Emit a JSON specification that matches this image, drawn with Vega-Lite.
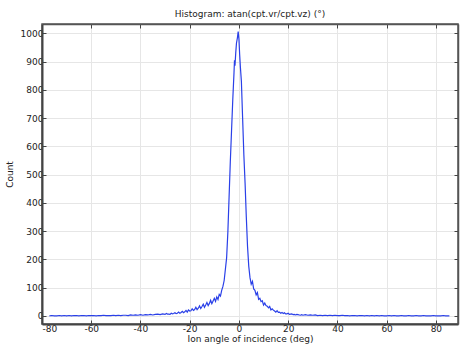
{
  "$schema": "https://vega.github.io/schema/vega-lite/v6.json",
  "autosize": {"type": "none"},
  "width": 416,
  "height": 300,
  "padding": {"left": 42, "top": 24, "right": 16, "bottom": 28},
  "background": "white",
  "title": {"text": "Histogram: atan(cpt.vr/cpt.vz) (°)", "fontSize": 9, "font": "DejaVu Sans", "fontWeight": "normal", "color": "#222", "offset": 5},
  "config": {"view": {"stroke": "#555", "strokeWidth": 1.5}, "font": "DejaVu Sans"},
  "data": {"values": [
    {"a": -77, "c": 0}, {"a": -76, "c": 1}, {"a": -75, "c": 0}, {"a": -74, "c": 0}, {"a": -73, "c": 1}, {"a": -72, "c": 0}, {"a": -71, "c": 1}, {"a": -70, "c": 0}, {"a": -69, "c": 1}, {"a": -68, "c": 0}, {"a": -67, "c": 1}, {"a": -66, "c": 1}, {"a": -65, "c": 0}, {"a": -64, "c": 1}, {"a": -63, "c": 1}, {"a": -62, "c": 0}, {"a": -61, "c": 1}, {"a": -60, "c": 1}, {"a": -59, "c": 1}, {"a": -58, "c": 0}, {"a": -57, "c": 1}, {"a": -56, "c": 1}, {"a": -55, "c": 2}, {"a": -54, "c": 1}, {"a": -53, "c": 1}, {"a": -52, "c": 1}, {"a": -51, "c": 2}, {"a": -50, "c": 1}, {"a": -49, "c": 2}, {"a": -48, "c": 1}, {"a": -47, "c": 2}, {"a": -46, "c": 2}, {"a": -45, "c": 1}, {"a": -44, "c": 3}, {"a": -43, "c": 2}, {"a": -42, "c": 3}, {"a": -41, "c": 2}, {"a": -40, "c": 4}, {"a": -39, "c": 2}, {"a": -38, "c": 4}, {"a": -37, "c": 3}, {"a": -36, "c": 5}, {"a": -35, "c": 3}, {"a": -34, "c": 5}, {"a": -33, "c": 6}, {"a": -32, "c": 4}, {"a": -31, "c": 7},
    {"a": -30, "c": 5}, {"a": -29.5, "c": 8}, {"a": -29, "c": 6}, {"a": -28.5, "c": 6}, {"a": -28, "c": 5}, {"a": -27.5, "c": 9}, {"a": -27, "c": 7}, {"a": -26.5, "c": 8}, {"a": -26, "c": 11}, {"a": -25.5, "c": 8}, {"a": -25, "c": 9}, {"a": -24.5, "c": 13}, {"a": -24, "c": 9}, {"a": -23.5, "c": 12}, {"a": -23, "c": 16}, {"a": -22.5, "c": 11}, {"a": -22, "c": 14}, {"a": -21.5, "c": 19}, {"a": -21, "c": 13}, {"a": -20.5, "c": 21}, {"a": -20, "c": 17}, {"a": -19.5, "c": 18}, {"a": -19, "c": 25}, {"a": -18.5, "c": 19}, {"a": -18, "c": 22}, {"a": -17.5, "c": 30}, {"a": -17, "c": 22}, {"a": -16.5, "c": 27}, {"a": -16, "c": 35}, {"a": -15.5, "c": 26}, {"a": -15, "c": 33}, {"a": -14.5, "c": 41}, {"a": -14, "c": 30}, {"a": -13.5, "c": 38}, {"a": -13, "c": 47}, {"a": -12.5, "c": 36}, {"a": -12, "c": 44}, {"a": -11.5, "c": 55}, {"a": -11, "c": 43}, {"a": -10.5, "c": 52}, {"a": -10, "c": 62}, {"a": -9.5, "c": 51}, {"a": -9, "c": 67}, {"a": -8.5, "c": 58}, {"a": -8, "c": 76}, {"a": -7.5, "c": 70}, {"a": -7, "c": 90}, {"a": -6.5, "c": 104}, {"a": -6, "c": 125}, {"a": -5.5, "c": 165}, {"a": -5, "c": 205}, {"a": -4.5, "c": 295}, {"a": -4, "c": 420}, {"a": -3.5, "c": 545}, {"a": -3, "c": 655}, {"a": -2.5, "c": 765}, {"a": -2, "c": 860}, {"a": -1.8, "c": 905}, {"a": -1.6, "c": 885}, {"a": -1.3, "c": 930}, {"a": -1, "c": 965}, {"a": -0.6, "c": 985}, {"a": -0.3, "c": 1006}, {"a": 0, "c": 980}, {"a": 0.3, "c": 925}, {"a": 0.6, "c": 880}, {"a": 1, "c": 830}, {"a": 1.5, "c": 700}, {"a": 2, "c": 570}, {"a": 2.5, "c": 470}, {"a": 3, "c": 350}, {"a": 3.5, "c": 245}, {"a": 4, "c": 175}, {"a": 4.5, "c": 135}, {"a": 5, "c": 112}, {"a": 5.5, "c": 122}, {"a": 6, "c": 95}, {"a": 6.5, "c": 90}, {"a": 7, "c": 74}, {"a": 7.5, "c": 82}, {"a": 8, "c": 58}, {"a": 8.5, "c": 62}, {"a": 9, "c": 50}, {"a": 9.5, "c": 53}, {"a": 10, "c": 38}, {"a": 10.5, "c": 45}, {"a": 11, "c": 36}, {"a": 11.5, "c": 34}, {"a": 12, "c": 28}, {"a": 12.5, "c": 33}, {"a": 13, "c": 21}, {"a": 13.5, "c": 25}, {"a": 14, "c": 20}, {"a": 14.5, "c": 17}, {"a": 15, "c": 13}, {"a": 15.5, "c": 18}, {"a": 16, "c": 12}, {"a": 16.5, "c": 13}, {"a": 17, "c": 9}, {"a": 17.5, "c": 12}, {"a": 18, "c": 8}, {"a": 18.5, "c": 11}, {"a": 19, "c": 7}, {"a": 19.5, "c": 7}, {"a": 20, "c": 9}, {"a": 20.5, "c": 5}, {"a": 21, "c": 6}, {"a": 21.5, "c": 7}, {"a": 22, "c": 4}, {"a": 22.5, "c": 5}, {"a": 23, "c": 3}, {"a": 23.5, "c": 5}, {"a": 24, "c": 4}, {"a": 24.5, "c": 3}, {"a": 25, "c": 2}, {"a": 25.5, "c": 4}, {"a": 26, "c": 2}, {"a": 27, "c": 4}, {"a": 28, "c": 2}, {"a": 29, "c": 3}, {"a": 30, "c": 2},
    {"a": 31, "c": 3}, {"a": 32, "c": 1}, {"a": 33, "c": 2}, {"a": 34, "c": 1}, {"a": 35, "c": 2}, {"a": 36, "c": 1}, {"a": 37, "c": 2}, {"a": 38, "c": 1}, {"a": 39, "c": 2}, {"a": 40, "c": 1}, {"a": 41, "c": 1}, {"a": 42, "c": 2}, {"a": 43, "c": 1}, {"a": 44, "c": 1}, {"a": 45, "c": 0}, {"a": 46, "c": 1}, {"a": 47, "c": 1}, {"a": 48, "c": 0}, {"a": 49, "c": 1}, {"a": 50, "c": 1}, {"a": 51, "c": 0}, {"a": 52, "c": 1}, {"a": 53, "c": 0}, {"a": 54, "c": 1}, {"a": 55, "c": 0}, {"a": 56, "c": 1}, {"a": 57, "c": 0}, {"a": 58, "c": 1}, {"a": 59, "c": 0}, {"a": 60, "c": 0}, {"a": 61, "c": 1}, {"a": 62, "c": 0}, {"a": 63, "c": 1}, {"a": 64, "c": 0}, {"a": 65, "c": 0}, {"a": 66, "c": 1}, {"a": 67, "c": 0}, {"a": 68, "c": 0}, {"a": 69, "c": 1}, {"a": 70, "c": 0}, {"a": 71, "c": 0}, {"a": 72, "c": 1}, {"a": 73, "c": 0}, {"a": 74, "c": 0}, {"a": 75, "c": 1}, {"a": 76, "c": 0}, {"a": 77, "c": 0}, {"a": 78, "c": 0}, {"a": 79, "c": 1}, {"a": 80, "c": 0}, {"a": 81, "c": 0}, {"a": 82, "c": 0}, {"a": 83, "c": 1}, {"a": 84, "c": 0}, {"a": 85, "c": 0}, {"a": 85.5, "c": 0}
  ]},
  "layer": [
    {
      "mark": {"type": "line", "color": "#2a40e8", "strokeWidth": 1.2},
      "encoding": {
        "x": {"field": "a", "type": "quantitative", "scale": {"domain": [-80, 89], "nice": false, "zero": false},
          "axis": {"orient": "bottom", "values": [-80, -60, -40, -20, 0, 20, 40, 60, 80], "labelExpr": "'' + datum.value", "title": "Ion angle of incidence (deg)",
            "titleFontSize": 9, "titleFontWeight": "normal", "titleColor": "#222", "titlePadding": 1,
            "labelFontSize": 9, "labelColor": "#222", "labelPadding": 4, "tickSize": -4, "tickColor": "#444",
            "domainColor": "#444", "domainWidth": 2, "gridColor": "#e6e6e6", "grid": true}},
        "y": {"field": "c", "type": "quantitative", "scale": {"domain": [-29, 1033], "nice": false, "zero": false},
          "axis": {"orient": "left", "values": [0, 100, 200, 300, 400, 500, 600, 700, 800, 900, 1000], "labelExpr": "'' + datum.value", "title": "Count",
            "titleFontSize": 9, "titleFontWeight": "normal", "titleColor": "#222", "titlePadding": 6,
            "labelFontSize": 9, "labelColor": "#222", "labelPadding": 3, "tickSize": -4, "tickColor": "#444",
            "domainColor": "#444", "domainWidth": 2, "gridColor": "#e6e6e6", "grid": true}}
      }
    },
    {
      "mark": {"type": "line", "opacity": 0},
      "encoding": {
        "x": {"field": "a", "type": "quantitative", "scale": {"domain": [-80, 89], "nice": false, "zero": false},
          "axis": {"orient": "top", "values": [-80, -60, -40, -20, 0, 20, 40, 60, 80], "title": null, "labels": false, "grid": false,
            "tickSize": -4, "tickColor": "#444", "domainColor": "#555", "domainWidth": 1.5}},
        "y": {"field": "c", "type": "quantitative", "scale": {"domain": [-29, 1033], "nice": false, "zero": false},
          "axis": {"orient": "right", "values": [0, 100, 200, 300, 400, 500, 600, 700, 800, 900, 1000], "title": null, "labels": false, "grid": false,
            "tickSize": -4, "tickColor": "#444", "domainColor": "#555", "domainWidth": 1.5}}
      }
    }
  ],
  "resolve": {"axis": {"x": "independent", "y": "independent"}}
}
